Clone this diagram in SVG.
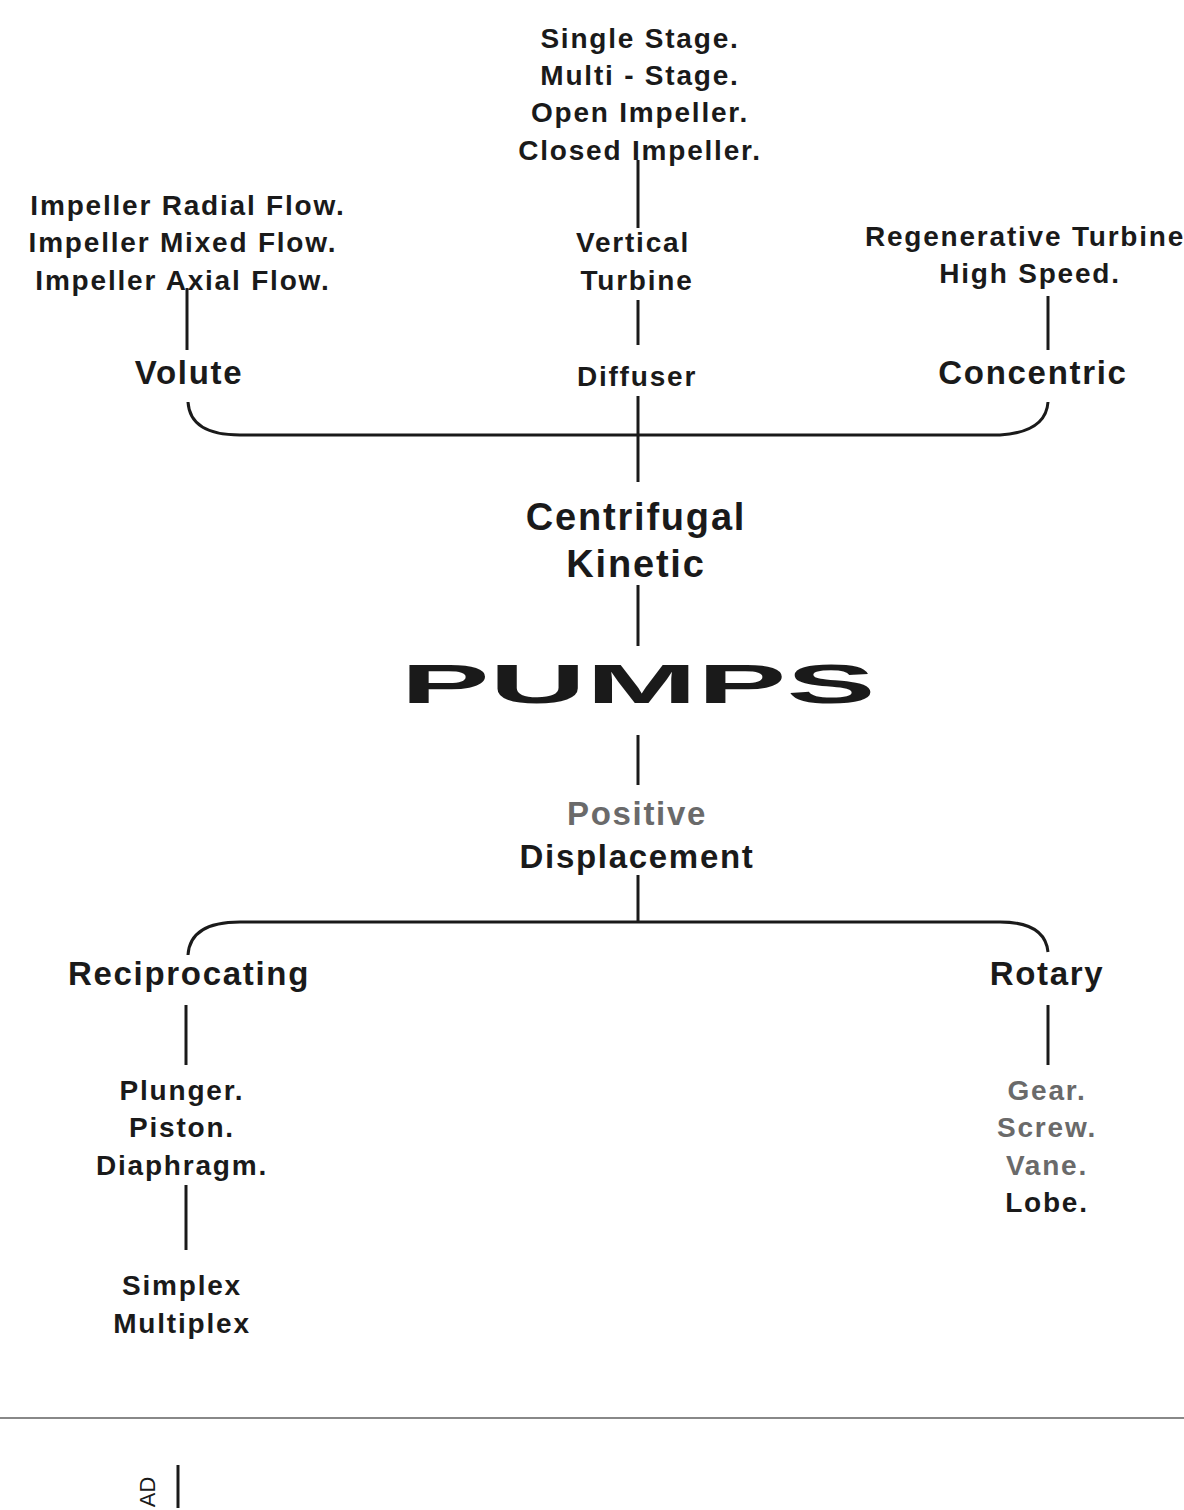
<svg xmlns="http://www.w3.org/2000/svg" width="1184" height="1510" viewBox="0 0 1184 1510">
<style>
text{font-family:"Liberation Sans",Arial,sans-serif;font-weight:bold;fill:#1a1a1a;text-anchor:middle}
.s{font-size:28px;letter-spacing:1.8px}.m{font-size:33px;letter-spacing:1.7px}.l{font-size:38px;letter-spacing:1.8px}.g{fill:#6a6a6a}
.c line,.c path{stroke:#1a1a1a;stroke-width:3;fill:none}
</style>
<rect width="1184" height="1510" fill="#fff"/>
<g class="c" id="connectors">
<line x1="638" y1="160" x2="638" y2="228"/>
<line x1="638" y1="300" x2="638" y2="345"/>
<line x1="638" y1="396" x2="638" y2="482"/>
<line x1="638" y1="585" x2="638" y2="646"/>
<line x1="638" y1="735" x2="638" y2="785"/>
<line x1="638" y1="875" x2="638" y2="922"/>
<line x1="187" y1="288" x2="187" y2="350"/>
<line x1="1048" y1="296" x2="1048" y2="350"/>
<path d="M188 402 Q190 435 240 435 L1000 435 Q1046 432 1048 402"/>
<path d="M188 955 Q190 922 240 922 L1000 922 Q1045 922 1048 952"/>
<line x1="186" y1="1005" x2="186" y2="1065"/>
<line x1="186" y1="1185" x2="186" y2="1250"/>
<line x1="1048" y1="1005" x2="1048" y2="1065"/>
</g>
<g id="top"><text class="s" x="640" y="48">Single Stage.</text><text class="s" x="640" y="85">Multi - Stage.</text><text class="s" x="640" y="122">Open Impeller.</text><text class="s" x="640" y="160">Closed Impeller.</text></g>
<g id="impeller"><text class="s" x="188" y="215">Impeller Radial Flow.</text><text class="s" x="183" y="252">Impeller Mixed Flow.</text><text class="s" x="183" y="290">Impeller Axial Flow.</text></g>
<g id="vertical"><text class="s" x="633" y="252">Vertical</text><text class="s" x="637" y="290">Turbine</text></g>
<g id="regen"><text class="s" x="1025" y="246">Regenerative Turbine</text><text class="s" x="1030" y="283">High Speed.</text></g>
<g id="volute"><text class="m" x="189" y="384">Volute</text></g>
<g id="diffuser"><text class="s" x="637" y="386">Diffuser</text></g>
<g id="concentric"><text class="m" x="1033" y="384">Concentric</text></g>
<g id="centrifugal"><text class="l" x="636" y="530">Centrifugal</text><text class="l" x="636" y="577">Kinetic</text></g>
<g id="pumps"><text x="638" y="703" style="font-family:'Liberation Sans',Arial,sans-serif;font-weight:900;font-size:56px" textLength="475" lengthAdjust="spacingAndGlyphs">PUMPS</text></g>
<g id="pd"><text class="m g" x="637" y="825">Positive</text><text class="m" x="637" y="868">Displacement</text></g>
<g id="recip"><text class="m" x="189" y="985">Reciprocating</text></g>
<g id="rotary"><text class="m" x="1047" y="985">Rotary</text></g>
<g id="plunger"><text class="s" x="182" y="1100">Plunger.</text><text class="s" x="182" y="1137">Piston.</text><text class="s" x="182" y="1175">Diaphragm.</text></g>
<g id="gear"><text class="s g" x="1047" y="1100">Gear.</text><text class="s g" x="1047" y="1137">Screw.</text><text class="s g" x="1047" y="1175">Vane.</text><text class="s" x="1047" y="1212">Lobe.</text></g>
<g id="simplex"><text class="s" x="182" y="1295">Simplex</text><text class="s" x="182" y="1333">Multiplex</text></g>
<line x1="0" y1="1418" x2="1184" y2="1418" stroke="#888" stroke-width="2"/>
<text x="0" y="0" transform="translate(155,1492) rotate(-90)" style="font-size:22px;font-weight:normal;letter-spacing:0">AD</text>
<line x1="178" y1="1465" x2="178" y2="1508" stroke="#1a1a1a" stroke-width="3"/>
</svg>
